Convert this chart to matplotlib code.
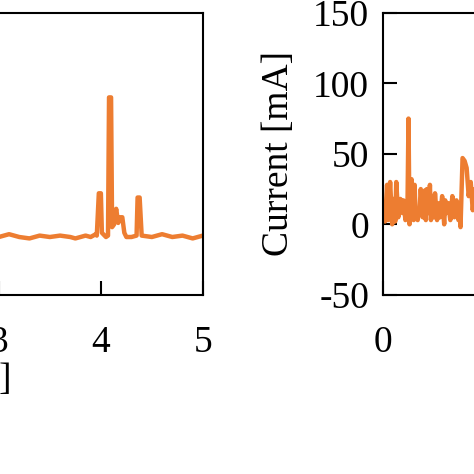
import matplotlib
matplotlib.use("Agg")
import matplotlib.pyplot as plt

plt.rcParams['font.family'] = ['Liberation Serif', 'DejaVu Serif']
plt.rcParams['font.size'] = 27
plt.rcParams['axes.unicode_minus'] = False

ORANGE = '#ED7D31'

# left panel: time [s] and current [mA]
left_t = [0.0, 2.6, 2.7, 2.75, 2.9, 3.0, 3.1, 3.2, 3.3, 3.4, 3.5, 3.6, 3.7, 3.75, 3.85, 3.9, 3.95, 3.96,
          3.98, 4.0, 4.01, 4.05, 4.07, 4.08, 4.1, 4.11, 4.13, 4.15, 4.17, 4.19,
          4.21, 4.23, 4.25, 4.3, 4.35, 4.36, 4.38, 4.4, 4.5, 4.6, 4.7, 4.8, 4.9, 5.0]
left_i = [-9, -9, -11, -9, -8, -9, -7, -9, -10, -8, -9, -8, -9, -10, -8, -9, -7, -8,
          22, 22, -6, -9, -8, 90, 90, -2, 0, 11, 1, 5, 5, -6, -9, -9, -8,
          19, 19, -8, -9, -7, -9, -8, -10, -8]

# right panel: time [s] and current [mA]
right_t = [0.0, 0.02, 0.04, 0.05, 0.07, 0.09, 0.10, 0.12, 0.13, 0.15, 0.17, 0.19, 0.20,
           0.22, 0.24, 0.25, 0.26, 0.28, 0.30, 0.31, 0.32, 0.34, 0.36, 0.37, 0.39, 0.41,
           0.42, 0.43, 0.45, 0.46, 0.47, 0.49, 0.50, 0.51, 0.53, 0.55, 0.56, 0.58, 0.60,
           0.61, 0.62, 0.64, 0.66, 0.68, 0.70, 0.72, 0.74, 0.75, 0.76, 0.78, 0.80, 0.82,
           0.84, 0.86, 0.88, 0.90, 0.94, 0.98, 1.05]
right_i = [10, 2, 28, 3, 30, 0, 18, 2, 30, 5, 18, 8, 17, 3, 12, 75, 0, 32, 3, 28,
           5, 3, 12, 25, 5, 24, 3, 25, 8, 28, 3, 20, 5, 22, 3, 15, 5, 20, 0, 17,
           8, 15, 3, 20, 5, 17, 3, 15, -2, 47, 45, 40, 20, 30, 10, 25, 15, 20, 10]

fig = plt.figure(figsize=(4.74, 4.74), dpi=100)
ax1 = fig.add_axes([-0.648, 0.378, 1.076, 0.595])
ax2 = fig.add_axes([0.808, 0.378, 1.076, 0.595])

ax1.plot(left_t, left_i, color=ORANGE, lw=3.2)
ax1.set_xlim(0, 5)
ax1.set_ylim(-50, 150)
ax1.set_xlabel('Time [s]', labelpad=2)

ax2.plot(right_t, right_i, color=ORANGE, lw=3.2)
ax2.set_xlim(0, 5)
ax2.set_ylim(-50, 150)
ax2.set_yticks([-50, 0, 50, 100, 150])
ax2.set_ylabel('Current [mA]')
ax2.yaxis.set_label_coords(-0.17, 0.5)

for ax in (ax1, ax2):
    ax.set_xticks([0, 1, 2, 3, 4, 5])
    for s in ax.spines.values():
        s.set_linewidth(1.5)
    ax.tick_params(direction='in', length=10, width=1.5)
    ax.tick_params(axis='x', pad=22)
    ax.tick_params(axis='y', pad=10)

fig.savefig('out.png', dpi=100)
